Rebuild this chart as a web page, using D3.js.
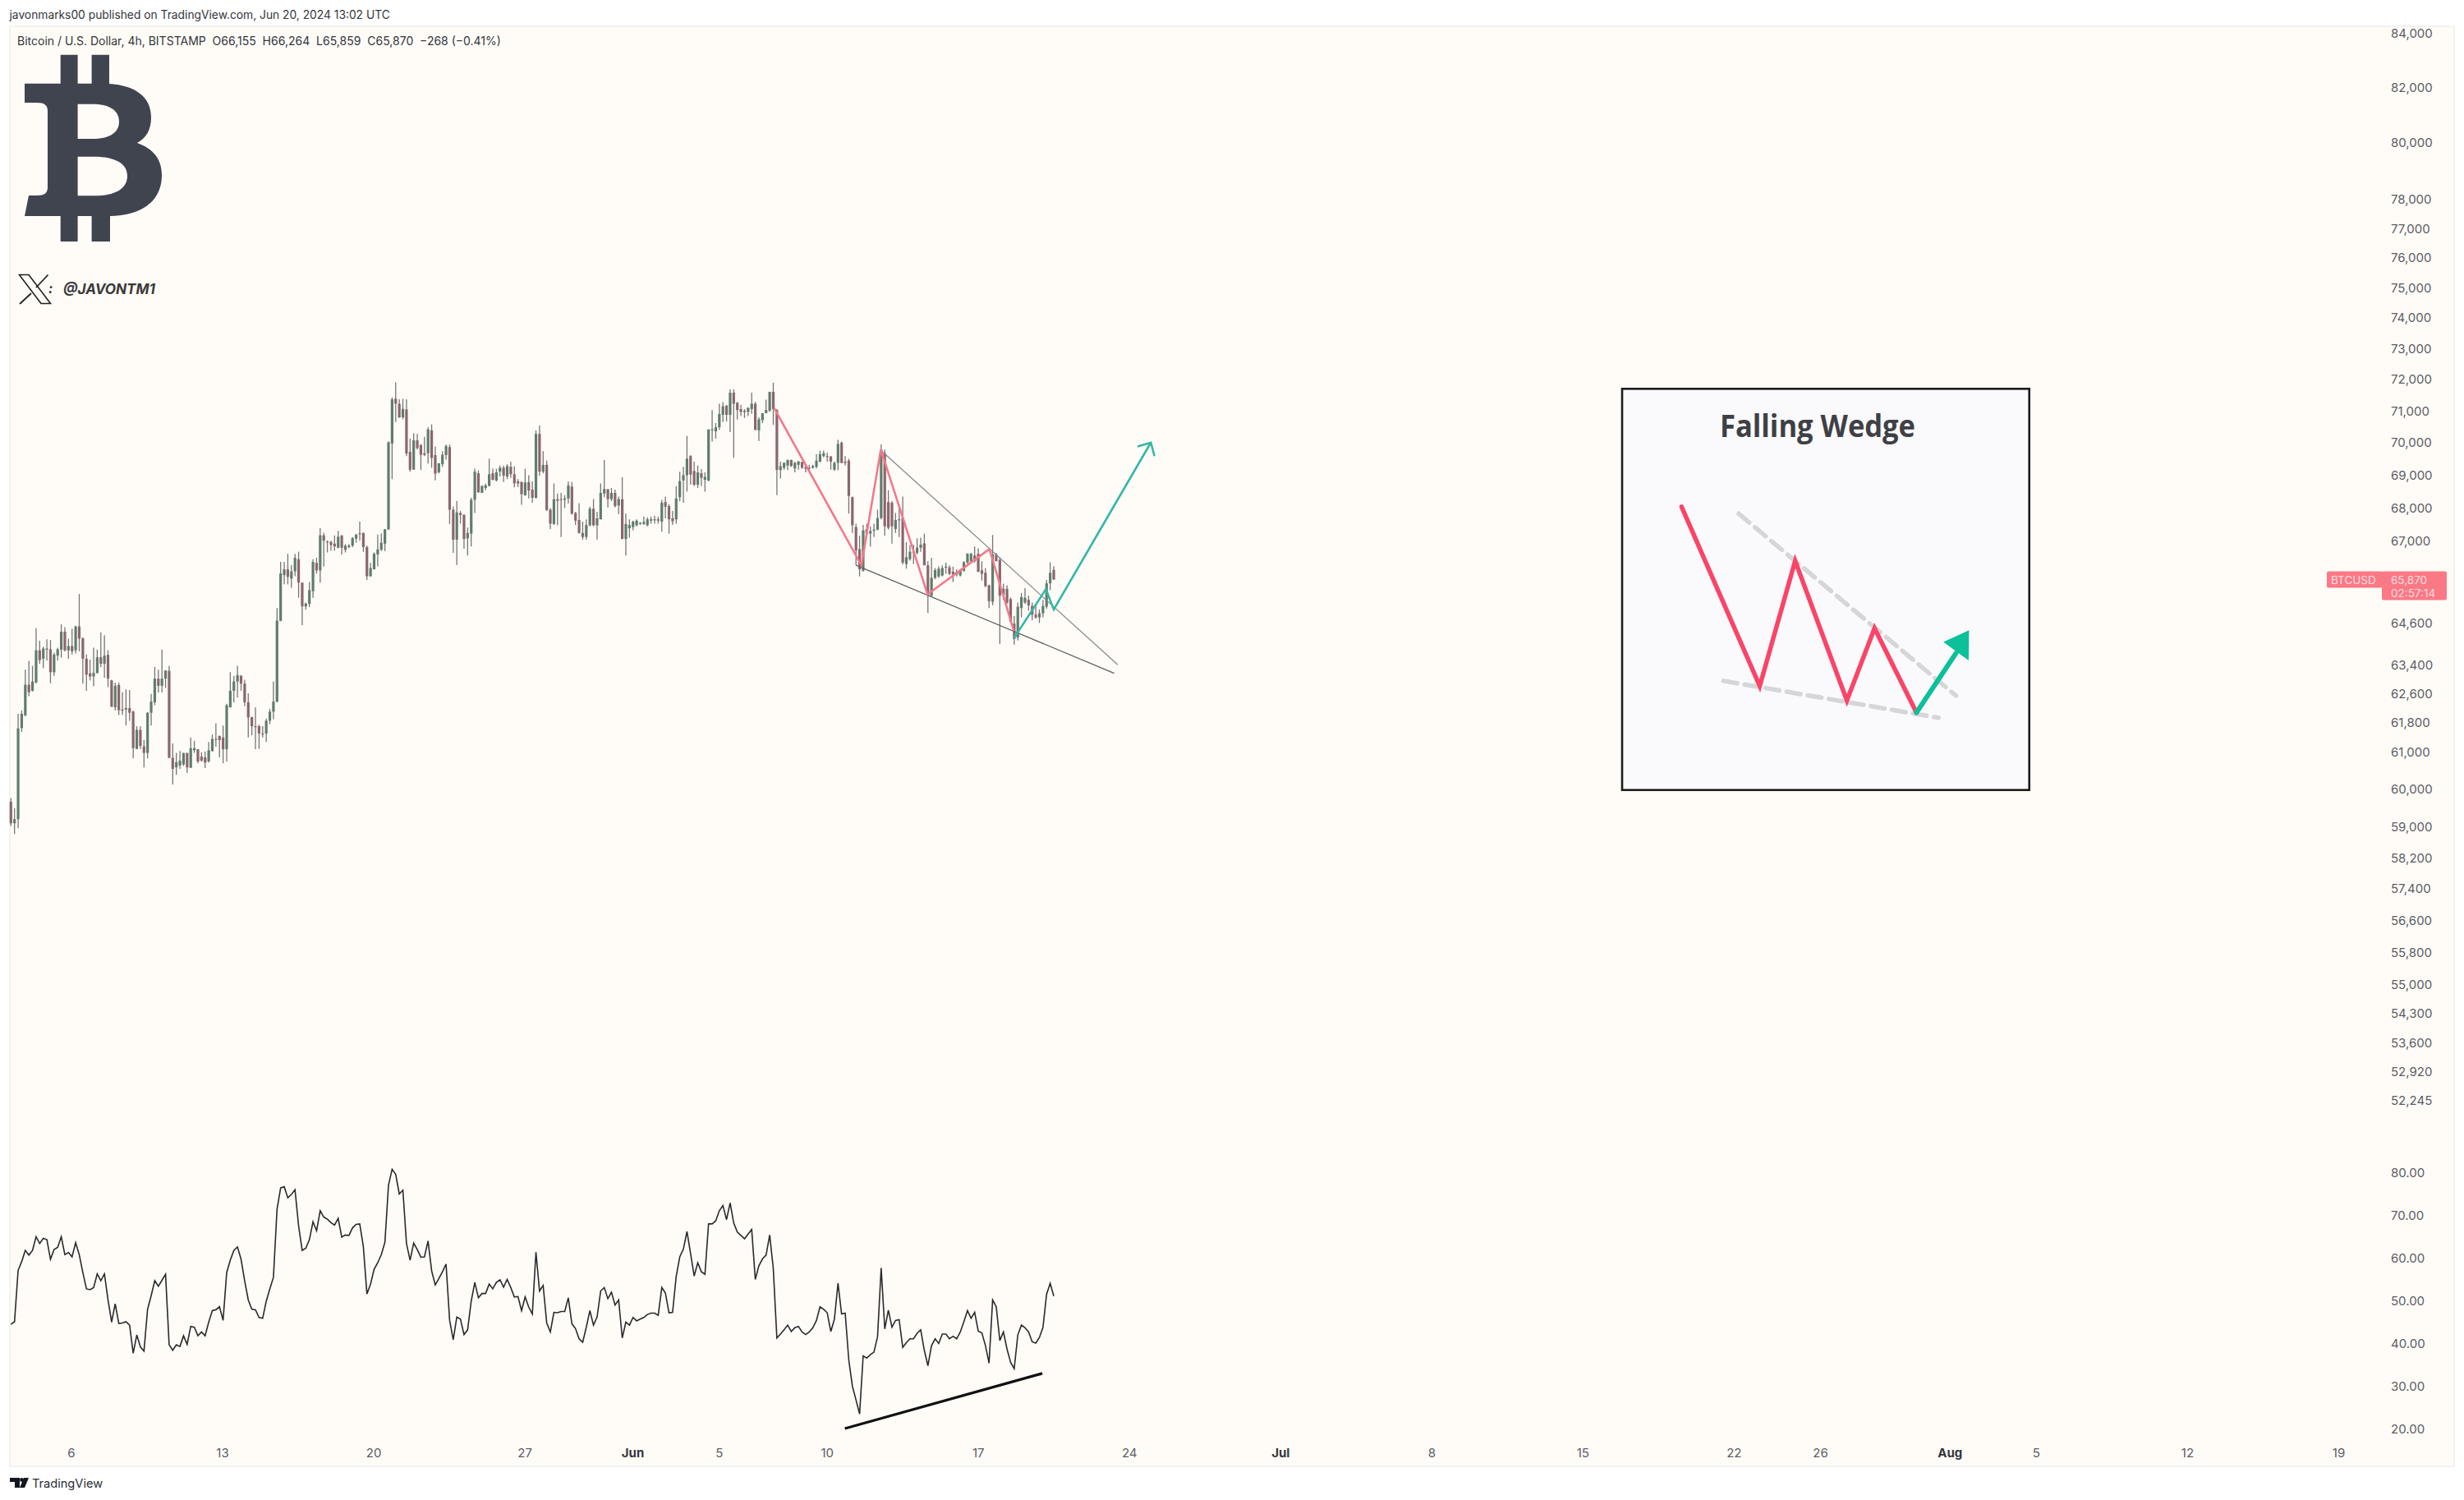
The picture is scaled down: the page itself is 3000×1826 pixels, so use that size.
<!DOCTYPE html>
<html>
<head>
<meta charset="utf-8">
<title>BTCUSD falling wedge</title>
<script src="https://cdn.jsdelivr.net/npm/d3@7"></script>
<style>
  html, body { margin: 0; padding: 0; background: #fff; }
  text { font-family: Inter, "Liberation Sans", sans-serif; }
</style>
</head>
<body>
<div id="chart"></div>
<script>
// DATA //
// BTCUSD 4h candles, first bar May 3, last bar Jun 20 12:00 UTC
const opens = [59670,59100,59210,
  61660,62010,62860,62690,62920,63830,63590,63850,63860,63210,
  63680,63850,64360,63830,63950,63830,64510,64170,63590,63180,
  63090,63190,63630,63450,63700,62980,62230,62850,62170,62170,
  62210,62110,61090,61610,61160,60980,62080,62370,63030,62830,
  63030,63250,60850,60590,60640,60670,60980,60580,61050,61080,
  60880,60860,60750,61030,61340,61440,61400,61080,62230,62690,
  62950,63110,62890,62370,61960,61710,61710,61510,61510,61860,
  62110,62390,64670,66000,66170,65900,66110,66470,65780,65090,
  65160,65530,66360,66140,67180,67000,66980,66930,66810,67180,
  66750,66830,66870,67080,67220,67250,66830,65970,66170,66610,
  66750,66930,67360,69980,71390,71230,70800,71050,
  69720,69170,70080,69930,69680,69680,70390,69620,69090,69340,
  69620,69870,67950,67050,67850,67800,67090,67230,68250,69060,
  68460,68610,68670,69060,68840,69110,69230,68960,69260,69030,
  68810,68790,68390,68790,68560,68310,70280,69110,69320,67950,
  67520,68270,68270,68250,68290,68650,67850,67640,67250,67130,
  67480,67980,67480,67660,68440,68570,68270,68460,68080,68270,
  67070,67390,67430,67480,67520,67520,67480,67620,67640,67660,
  67590,68180,68060,67690,67660,68330,68840,69000,69590,69130,
  68710,69060,68860,68840,70390,70360,70490,70880,71170,70880,
  71580,71260,71060,71010,70970,71060,71230,70390,70710,70930,
  71010,71610,
  71030,69160,69230,69300,69470,69210,69320,69410,69240,69230,
  69230,69260,69420,69590,69590,69580,69170,69380,70010,69420,
  69450,68330,67430,66770,66130,67230,67230,67330,67350,67700,
  69680,68180,68160,67370,67640,67700,66330,66470,66670,66660,
  66810,66940,66290,65400,65920,65960,65990,66230,66230,66100,
  66020,65990,66130,66370,66410,66580,66630,66140,66070,65700,
  65220,66610,66450,65430,65600,65300,64590,64190,65040,65200,
  65280,65100,64850,64770,64890,65080,65760,66155];

const highs = [59770,59500,62050,
  62140,63280,63530,63390,64460,64100,63930,64140,64120,63760,
  63900,64570,64490,64160,64440,64530,65450,64200,63710,63570,
  63900,63850,64340,64260,63830,63000,62920,62920,62650,62730,
  62710,62140,61710,61710,61330,62100,62600,63360,63280,63850,
  63260,63390,61240,60980,61030,60980,60980,61400,61310,61080,
  61000,61020,61280,61480,61790,61460,61730,62330,63210,63110,
  63390,63130,63000,62620,61970,62230,61750,61710,61920,62190,
  62950,65040,66390,66390,66630,66300,66630,66690,65780,65200,
  65800,66470,66510,67400,67260,67020,67020,67180,67310,67180,
  66920,66920,67120,67220,67590,67260,66870,66360,66670,67200,
  67240,67370,70050,71430,71910,71370,71390,71370,
  70140,70300,70280,69970,70190,70490,70580,69890,69370,69740,
  69950,69950,68040,68220,67910,67800,67410,68310,69200,69150,
  68690,68740,69510,69210,69200,69300,69300,69340,69420,69280,
  68880,68810,69200,69000,68810,70390,70540,69740,69450,68000,
  68750,68440,68460,68390,68810,68790,67890,68150,67590,67660,
  68040,68270,67890,68750,69470,68580,68610,68560,68350,68940,
  67830,67660,67620,67660,67580,67740,67720,67740,67770,67740,
  68250,68350,68120,67910,68670,69110,69260,70220,69620,69420,
  69300,69190,69090,70420,71030,70620,71230,71280,71190,71690,
  71690,71290,71190,71060,71120,71580,71290,70800,70940,71360,
  71610,71900,
  71060,69420,69400,69480,69480,69420,69450,69420,69300,69320,
  69320,69650,69760,69760,69700,69590,69420,70100,70040,69590,
  69510,68350,67530,67170,67490,67530,67450,67530,67950,69950,
  69790,68540,68210,67850,68040,68350,66980,66890,66900,67090,
  67110,67230,66410,66510,66210,66260,66290,66370,66290,66250,
  66170,66180,66410,66650,66660,66850,66790,66410,66210,65720,
  67190,66660,66530,65750,65700,65350,64810,65200,65480,65620,
  65400,65200,65160,65000,65280,65860,66380,66264];

const lows = [59030,58820,58970,
  61550,61980,62540,62670,62900,63450,63320,63540,62900,63110,
  63540,63620,63800,63590,63710,63740,63800,62890,62690,62980,
  62820,63170,63350,63050,62790,62230,62140,62020,62020,61730,
  61860,60840,61080,61090,60590,60830,61730,62290,62640,62640,
  62770,60830,60130,60390,60550,60630,60440,60570,60980,60700,
  60750,60570,60720,61020,61150,60860,60700,60750,62230,62370,
  62500,62690,62260,61400,61460,61080,61090,61400,61280,61770,
  61900,62370,64660,65730,65730,65630,65970,65340,64550,64990,
  65070,65340,66050,65780,66250,66670,66720,66720,66790,66610,
  66670,66790,66830,66960,67020,66690,65860,65950,66170,66260,
  66710,66710,67340,68880,70650,70780,70740,69590,
  69110,69170,69790,69160,69590,69360,69230,68840,69060,69260,
  69480,67520,66660,66300,67530,66780,66580,66850,67850,68460,
  68460,68540,68670,68840,68810,68960,68790,68880,68920,68630,
  68640,68100,68370,68290,68160,68290,68980,69060,67910,67370,
  67490,67480,67130,68000,68140,67800,67490,67230,67050,67050,
  67450,67450,67050,67660,68330,68020,68210,68020,67810,67070,
  66580,67110,67330,67450,67490,67490,67450,67530,67530,67530,
  67290,67690,67230,67490,67530,68210,68160,68500,68710,68670,
  68610,68670,68500,68810,70040,70130,70410,70650,70670,70340,
  69530,70730,70840,70780,70840,70910,70390,70060,70620,70930,
  70970,70560,
  68390,68900,69170,69160,69260,69090,69170,69200,69090,69150,
  69200,69210,69400,69550,69420,69170,69130,69150,69370,69300,
  67830,67250,66290,65960,66100,67130,66850,67130,67330,67660,
  67170,67350,66930,67250,67130,66310,66190,66430,66330,66610,
  66690,66290,64900,65380,65880,65920,65960,66040,66000,65800,
  65960,65960,66100,66330,66370,66370,66090,65840,65640,65040,
  65120,66410,64010,65280,65160,64610,63990,64110,64770,65160,
  64960,64690,64730,64610,64770,65020,65560,65859];

const closes = [59100,59210,61650,
  62050,62860,62650,62950,63830,63550,63880,63880,63210,63710,
  63860,64360,63830,63950,63800,64510,64160,63590,63140,63090,
  63190,63630,63450,63680,63030,62250,62830,62150,62140,62210,
  62080,61110,61610,61170,60980,62080,62390,63030,62830,63030,
  63260,60850,60550,60730,60770,60980,60590,61110,61110,60750,
  60770,60720,61050,61360,61360,61330,61080,62290,62690,62950,
  63130,62890,62370,61950,61710,61700,61510,61490,61860,62110,
  62390,64680,66050,66170,65950,66110,66510,65780,65090,65170,
  65560,66390,66140,67180,67020,66980,66890,66850,67140,66810,
  66870,66870,67100,67200,67240,66830,65970,66210,66630,66760,
  66960,67360,70020,71370,71230,70800,71070,69670,
  69170,70080,69840,69630,69630,70420,69530,69050,69370,69630,
  69900,67950,67050,67870,67790,67070,67250,68250,69110,68480,
  68670,68690,69030,68860,69090,69230,68990,69280,69030,68750,
  68750,68420,68780,68530,68310,70280,69110,69320,67940,67530,
  68270,68220,68250,68290,68690,67830,67620,67250,67130,67490,
  67980,67480,67690,68460,68580,68270,68460,68060,68270,67070,
  67520,67490,67590,67620,67550,67580,67660,67660,67660,67620,
  68160,68040,67660,67600,68290,68820,69000,69510,69020,68710,
  69090,68920,68950,70420,70420,70490,70910,71150,70880,71580,
  71230,71030,70970,70970,71100,71230,70410,70740,70930,71030,
  71610,71060,
  69160,69280,69380,69470,69280,69380,69420,69230,69200,69200,
  69280,69450,69650,69680,69570,69420,69380,69970,69380,69380,
  68370,67480,66730,66170,67330,67370,67310,67350,67700,69790,
  67450,67410,67450,67640,67660,66370,66530,66690,66690,66810,
  66900,66290,65400,65920,66150,66190,66210,66250,66040,66020,
  66100,66150,66380,66630,66630,66410,66100,66040,65680,65240,
  66610,66410,65400,65600,65200,64650,64150,65080,65360,65340,
  65120,64850,64770,64890,65100,65760,66070,65870];

// RSI pane, one value per candle
const rsi = [44.6,45.2,57.2,59.3,61.9,60.8,61.9,65.1,63.5,64.7,
  64.4,59.8,62.1,62.6,65.1,60.9,61.4,60.4,63.7,60.9,
  56.7,52.9,52.7,53.2,56.4,54.8,56.4,50.3,45.1,49.4,
  44.8,44.9,45.2,44.4,37.8,42.1,39.3,38.3,48.1,51.3,
  54.8,53.5,54.9,56.3,39.8,38.5,39.8,39.4,41.9,39.9,
  44.1,43.9,41.9,42.8,41.9,45.1,47.8,48.0,48.7,45.5,
  56.7,59.6,61.9,62.7,59.8,54.8,50.3,48.1,48.0,46.2,
  46.0,50.0,52.9,55.6,71.5,76.5,76.8,74.2,75.0,76.1,
  67.6,61.9,62.4,64.4,68.6,66.5,71.2,69.7,69.2,68.4,
  67.8,69.4,65.0,65.5,65.4,67.2,68.0,68.1,62.8,51.7,
  54.0,57.5,59.0,60.9,63.8,77.2,80.9,79.7,75.1,76.0,
  63.5,59.6,63.6,62.1,60.3,60.4,64.1,57.1,53.8,55.3,
  56.9,58.7,45.5,41.0,46.3,45.8,42.2,43.3,50.0,54.4,
  50.8,51.8,51.8,54.0,52.9,54.4,55.0,53.3,55.1,53.2,
  51.0,51.1,47.8,51.0,48.6,47.0,61.5,52.4,53.7,44.9,
  42.8,47.4,47.3,47.6,47.6,50.8,44.7,
  43.6,41.2,40.4,43.9,47.8,44.4,46.3,52.4,53.2,50.6,
  52.1,49.1,50.3,41.4,45.1,44.4,46.2,45.4,45.8,46.2,
  46.9,47.2,47.2,46.7,53.2,51.9,47.3,47.4,55.8,60.4,
  62.2,66.3,61.2,55.9,59.0,56.9,56.3,68.1,68.1,68.8,
  71.2,72.4,69.1,73.0,68.3,66.2,65.4,64.6,65.7,66.8,
  55.1,58.3,59.9,60.8,65.5,57.7,41.4,42.3,43.3,44.4,
  42.9,43.8,44.1,42.8,42.2,42.8,43.8,45.5,48.7,48.1,
  47.3,42.9,45.8,54.2,47.0,47.2,36.2,30.1,26.9,23.6,
  37.2,36.7,37.5,38.1,41.7,57.8,43.5,47.9,43.9,45.5,
  45.7,39.2,40.3,41.2,41.2,42.5,43.3,38.5,34.9,39.6,
  41.2,40.1,42.3,42.3,41.2,41.8,41.2,42.8,45.2,47.8,
  46.0,47.4,43.0,42.6,39.6,35.5,50.3,48.7,40.8,42.8,
  38.8,35.7,34.2,42.1,44.4,43.8,42.8,40.5,40.2,41.5,
  43.9,51.6,54.2,51.2];

// Drawn annotations, in bar number and price
const zigzagBars = [212.2,236.5,241.9,254.9,272.1,278.9];
const zigzagPrices = [71100,66290,69790,65440,66770,64380];
const projectionBars = [278.9,287.8,290.0,317.0];
const projectionPrices = [64170,65590,65000,70010];
const arrowHeadBars = [313.3,317.0,318.0];
const arrowHeadPrices = [69890,70010,69590];
const upperWedgeBars = [242.0,307.8];
const upperWedgePrices = [69760,63420];
const lowerWedgeBars = [235.0,306.8];
const lowerWedgePrices = [66290,63180];
const rsiTrendBars = [231.9,286.8];
const rsiTrendValues = [20.2,33.1];

// Axis labels
const priceTicks = [84000,82000,80000,78000,77000,76000,75000,74000,73000,72000,71000,70000,69000,68000,67000,
  64600,63400,62600,61800,61000,60000,59000,58200,57400,56600,55800,55000,54300,53600,52920,52245];
const rsiTicks = [80,70,60,50,40,30,20];
const dateTicks = ["2024-05-06","2024-05-13","2024-05-20","2024-05-27","2024-06-01","2024-06-05","2024-06-10","2024-06-17","2024-06-24",
  "2024-07-01","2024-07-08","2024-07-15","2024-07-22","2024-07-26","2024-08-01","2024-08-05","2024-08-12","2024-08-19"];

// Falling wedge picture in the box, in percent of the box
const insetRedX = [14.6,33.8,42.5,55.2,62.0,72.3];
const insetRedY = [29.4,74.1,42.9,77.7,59.7,80.7];
const insetGreenX = [72.3,82.0];
const insetGreenY = [80.7,65.9];
const insetHeadX = [85.2,78.9,85.1];
const insetHeadY = [60.2,63.1,67.7];
const insetUpperX = [28.6,82.0];
const insetUpperY = [31.1,76.5];
const insetLowerX = [24.9,77.7];
const insetLowerY = [72.8,82.0];

const Width = 3000;
const Height = 1826;
const bg = "#fffcf8";
const labelColor = "#5b5d63";

// SVG container
const svg = d3.select("#chart")
  .append("svg")
  .attr("width", Width)
  .attr("height", Height)
  .style("display", "block");

svg.append("rect").attr("width", Width).attr("height", Height).attr("fill", "#fff");
svg.append("rect")
  .attr("x", 12).attr("y", 32)
  .attr("width", 2976).attr("height", 1753)
  .attr("fill", bg)
  .attr("stroke", "#eeeeee")
  .attr("stroke-width", 1.5);

// SCALES //
const barX = d3.scaleLinear().domain([0, closes.length - 1]).range([13.3, 1283]);
const priceY = d3.scaleLog().domain([84000, 52245]).range([40.3, 1339.6]);
const rsiY = d3.scaleLinear().domain([80, 20]).range([1428, 1740]);
const dateX = d3.scaleUtc()
  .domain([new Date("2024-05-06"), new Date("2024-08-19")])
  .range([86.5, 2847]);

const toPoints = (xs, ys, fx, fy) => xs.map((x, i) => [fx(x), fy(ys[i])]);

// CANDLES //
const candles = svg.append("g").selectAll("g")
  .data(closes.map((c, i) => i))
  .enter().append("g");

candles.append("line")
  .attr("x1", i => barX(i))
  .attr("x2", i => barX(i))
  .attr("y1", i => priceY(highs[i]))
  .attr("y2", i => priceY(lows[i]))
  .attr("stroke", "#767676")
  .attr("stroke-width", 1.3);

candles.append("rect")
  .attr("x", i => barX(i) - 1.6)
  .attr("width", 3.2)
  .attr("y", i => priceY(Math.max(opens[i], closes[i])))
  .attr("height", i => Math.max(1.2, Math.abs(priceY(opens[i]) - priceY(closes[i]))))
  .attr("fill", i => closes[i] >= opens[i] ? "#5f7d6c" : "#8a666e");

// DRAWINGS //
const line = d3.line();
const drawLine = (pts, color, w, parent) => (parent || svg).append("path")
  .attr("d", line(pts))
  .attr("fill", "none")
  .attr("stroke", color)
  .attr("stroke-width", w)
  .attr("stroke-linejoin", "miter");

drawLine(toPoints(upperWedgeBars, upperWedgePrices, barX, priceY), "#858585", 1.2);
drawLine(toPoints(lowerWedgeBars, lowerWedgePrices, barX, priceY), "#5e5e5e", 1.2);
drawLine(toPoints(zigzagBars, zigzagPrices, barX, priceY), "#f4788a", 2.6);
drawLine(toPoints(projectionBars, projectionPrices, barX, priceY), "#35b8a4", 2.6);
drawLine(toPoints(arrowHeadBars, arrowHeadPrices, barX, priceY), "#35b8a4", 2.6);

// RSI //
drawLine(rsi.map((r, i) => [barX(i), rsiY(r)]), "#2a2a2a", 1.6);
drawLine(toPoints(rsiTrendBars, rsiTrendValues, barX, rsiY), "#111", 3.2);

// AXES //
const styleAxis = (g) => {
  g.select(".domain").remove();
  g.selectAll("text")
    .attr("fill", labelColor)
    .style("font-size", "15px");
};

svg.append("g")
  .attr("transform", "translate(2911,0)")
  .call(d3.axisRight(priceY).tickValues(priceTicks).tickSize(0).tickPadding(0).tickFormat(d3.format(",")))
  .call(styleAxis);

svg.append("g")
  .attr("transform", "translate(2911,0)")
  .call(d3.axisRight(rsiY).tickValues(rsiTicks).tickSize(0).tickPadding(0).tickFormat(d3.format(".2f")))
  .call(styleAxis);

const monthName = d3.utcFormat("%b");
const timeAxis = svg.append("g")
  .attr("transform", "translate(0,1763)")
  .call(d3.axisBottom(dateX)
    .tickValues(dateTicks.map(d => new Date(d)))
    .tickSize(0).tickPadding(0)
    .tickFormat(d => d.getUTCDate() === 1 ? monthName(d) : d.getUTCDate()))
  .call(styleAxis);
timeAxis.selectAll("text")
  .filter(d => d.getUTCDate() === 1)
  .attr("fill", "#33353a")
  .style("font-weight", 700);

// HEADER TEXT //
svg.append("text")
  .attr("x", 11.5).attr("y", 23)
  .attr("fill", "#33353a")
  .style("font-size", "13.8px")
  .text("javonmarks00 published on TradingView.com, Jun 20, 2024 13:02 UTC");

svg.append("text")
  .attr("x", 21).attr("y", 54.5)
  .attr("fill", "#33353a")
  .style("font-size", "14px")
  .attr("xml:space", "preserve")
  .text("Bitcoin / U.S. Dollar, 4h, BITSTAMP  O66,155  H66,264  L65,859  C65,870  \u2212268 (\u22120.41%)");

// BITCOIN LOGO //
svg.append("path")
  .attr("fill", "#40444f")
  .attr("fill-rule", "evenodd")
  .attr("d", "M73.7 66.7H94.6V101.7H111.6V66.7H133V102C165 104 184 118 184 143C184 158 178 168 167 174C187 181 197 194 197 213C197 245 173 262 134 263V294H111.6V263H94.6V294H73.7V263H30L35 238H45C54 238 58 235 58 228V135C58 128 54 125 45 125H30V101.7H73.7Z"
    + "M94.6 126.7V169H112C133 169 145 162 145 148C145 134 133 126.7 112 126.7Z"
    + "M94.6 190.7V238.3H115C140 238.3 155 230 155 214C155 199 140 190.7 115 190.7Z");

// X HANDLE //
const xLogo = svg.append("g").attr("fill", "none").attr("stroke", "#222");
xLogo.append("path").attr("stroke-width", 1.6).attr("d", "M23.5 334.5H35L61.5 369.5H50Z");
xLogo.append("path").attr("stroke-width", 1.8).attr("d", "M58.5 334.5L44 350M38 357L24 370");
svg.append("text")
  .attr("x", 59).attr("y", 357)
  .attr("fill", "#222")
  .style("font-size", "16px").style("font-weight", 700).style("font-style", "italic")
  .text(":");
svg.append("text")
  .attr("x", 77).attr("y", 358)
  .attr("fill", "#3a3a3a")
  .style("font-size", "17.2px").style("font-weight", 700).style("font-style", "italic")
  .text("@JAVONTM1");

// PRICE LABEL //
const closeY = priceY(closes[closes.length - 1]);
const badgeColor = "#fb7885";
const badgeText = "#ffdfe2";
svg.append("rect").attr("x", 2833).attr("y", closeY - 10).attr("width", 68).attr("height", 20).attr("rx", 2).attr("fill", badgeColor);
svg.append("rect").attr("x", 2900).attr("y", closeY - 10).attr("width", 79).attr("height", 35).attr("rx", 2).attr("fill", badgeColor);
svg.append("text").attr("x", 2838).attr("y", closeY + 5).attr("fill", badgeText).style("font-size", "13.5px").text("BTCUSD");
svg.append("text").attr("x", 2911).attr("y", closeY + 5).attr("fill", badgeText).style("font-size", "13.5px").text(d3.format(",")(closes[closes.length - 1]));
svg.append("text").attr("x", 2911).attr("y", closeY + 21).attr("fill", badgeText).style("font-size", "13.5px").text("02:57:14");

// FALLING WEDGE BOX //
const inset = svg.append("g");
const box = { x: 1975, y: 473.3, w: 495.7, h: 488.4 };
const insetX = d3.scaleLinear().domain([0, 100]).range([box.x, box.x + box.w]);
const insetY = d3.scaleLinear().domain([0, 100]).range([box.y, box.y + box.h]);

inset.append("rect")
  .attr("x", box.x).attr("y", box.y)
  .attr("width", box.w).attr("height", box.h)
  .attr("fill", "#fafafd")
  .attr("stroke", "#1c1c1c")
  .attr("stroke-width", 2.6);

inset.append("text")
  .attr("x", 2213).attr("y", 532)
  .attr("text-anchor", "middle")
  .attr("fill", "#3f4045")
  .attr("textLength", 238)
  .attr("lengthAdjust", "spacingAndGlyphs")
  .style("font-family", "'Open Sans'")
  .style("font-size", "38px")
  .style("font-weight", 700)
  .text("Falling Wedge");

[[insetUpperX, insetUpperY], [insetLowerX, insetLowerY]].forEach(([xs, ys]) => {
  drawLine(toPoints(xs, ys, insetX, insetY), "#d5d6d8", 5.5, inset)
    .attr("stroke-dasharray", "17 9")
    .attr("stroke-linecap", "round");
});
drawLine(toPoints(insetRedX, insetRedY, insetX, insetY), "#fb4468", 5.5, inset).attr("stroke-linecap", "round");
drawLine(toPoints(insetGreenX, insetGreenY, insetX, insetY), "#0cc09a", 6, inset).attr("stroke-linecap", "round");
inset.append("polygon")
  .attr("points", toPoints(insetHeadX, insetHeadY, insetX, insetY).join(" "))
  .attr("fill", "#0cc09a");

// TRADINGVIEW FOOTER //
svg.append("path")
  .attr("fill", "#131722")
  .attr("d", "M12 1799H24V1811H18V1804H12ZM29 1799H35L30 1811H24Z");
svg.append("circle").attr("cx", 26.5).attr("cy", 1801.5).attr("r", 2.4).attr("fill", "#131722");
svg.append("text")
  .attr("x", 39).attr("y", 1811)
  .attr("fill", "#2a2e39")
  .style("font-size", "14.6px")
  .text("TradingView");
</script>
</body>
</html>
